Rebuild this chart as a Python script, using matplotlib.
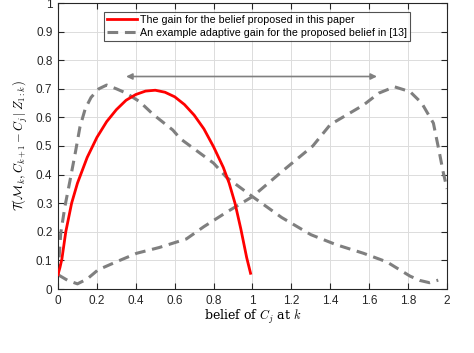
import matplotlib
matplotlib.use("Agg")
import matplotlib.pyplot as plt

plt.rcParams['font.family'] = ['Liberation Sans', 'DejaVu Sans']
plt.rcParams['mathtext.fontset'] = 'cm'

# red curve: gain for the proposed belief
red_x = [0, 0.01, 0.02, 0.04, 0.07, 0.1, 0.15, 0.2, 0.25, 0.3, 0.35, 0.4, 0.45,
         0.5, 0.55, 0.6, 0.65, 0.7, 0.75, 0.8, 0.85, 0.88, 0.91, 0.94, 0.97, 0.99]
red_y = [0.05, 0.075, 0.105, 0.2, 0.3, 0.37, 0.46, 0.53, 0.585, 0.627, 0.66, 0.68,
         0.692, 0.695, 0.688, 0.672, 0.645, 0.608, 0.56, 0.497, 0.425, 0.37, 0.3,
         0.21, 0.11, 0.055]

# grey dashed curve peaking on the left
gl_x = [0, 0.014, 0.036, 0.062, 0.09, 0.113, 0.14, 0.17, 0.21, 0.25, 0.3, 0.35,
        0.42, 0.49, 0.59, 0.63, 0.8, 0.867, 1.0, 1.15, 1.3, 1.43, 1.57, 1.69,
        1.75, 1.81, 1.86, 1.91, 1.955]
gl_y = [0.05, 0.195, 0.29, 0.38, 0.48, 0.567, 0.63, 0.67, 0.70, 0.713, 0.70,
        0.685, 0.655, 0.61, 0.556, 0.525, 0.44, 0.39, 0.323, 0.25, 0.19, 0.155,
        0.125, 0.095, 0.07, 0.045, 0.03, 0.022, 0.031]

# grey dashed curve peaking on the right
gr_x = [0, 0.05, 0.1, 0.15, 0.206, 0.3, 0.405, 0.52, 0.66, 0.75, 0.87, 1.0, 1.15,
        1.31, 1.4, 1.5, 1.57, 1.65, 1.73, 1.81, 1.87, 1.93, 1.96, 1.98, 2.0]
gr_y = [0.05, 0.03, 0.018, 0.035, 0.067, 0.095, 0.125, 0.145, 0.175, 0.218, 0.27,
        0.323, 0.41, 0.5, 0.575, 0.615, 0.643, 0.685, 0.707, 0.69, 0.65, 0.58,
        0.48, 0.41, 0.35]

fig = plt.figure(figsize=(4.74, 3.53), dpi=100)
ax = fig.add_axes([58 / 474, 1 - 289 / 353, 389 / 474, 286 / 353])

ax.plot(red_x, red_y, color='#ff0000', lw=2.0,
        label='The gain for the belief proposed in this paper', zorder=3)
ax.plot(gl_x, gl_y, color='#7f7f7f', lw=2.2, ls=(0, (3.5, 2.2)),
        label='An example adaptive gain for the proposed belief in [13]')
ax.plot(gr_x, gr_y, color='#7f7f7f', lw=2.2, ls=(0, (3.5, 2.2)))

ax.annotate('', xy=(0.35, 0.743), xytext=(1.64, 0.743),
            arrowprops=dict(arrowstyle='<|-|>', color='#808080', lw=1.2,
                            mutation_scale=9, shrinkA=0, shrinkB=0))

ax.set_xlim(0, 2)
ax.set_ylim(0, 1)
ax.set_xticks([0, 0.2, 0.4, 0.6, 0.8, 1, 1.2, 1.4, 1.6, 1.8, 2])
ax.set_xticklabels(['0', '0.2', '0.4', '0.6', '0.8', '1', '1.2', '1.4', '1.6', '1.8', '2'])
ax.set_yticks([0, 0.1, 0.2, 0.3, 0.4, 0.5, 0.6, 0.7, 0.8, 0.9, 1])
ax.set_yticklabels(['0', '0.1', '0.2', '0.3', '0.4', '0.5', '0.6', '0.7', '0.8', '0.9', '1'])
ax.tick_params(direction='in', top=True, right=True, labelsize=8.5,
               length=4, width=0.8, colors='#262626', pad=4)
ax.grid(True, color='#dcdcdc', lw=0.7)
for s in ax.spines.values():
    s.set_color('#262626')
    s.set_linewidth(0.8)

ax.set_xlabel(r'belief of $C_j$ at $k$', fontsize=9, family='DejaVu Serif',
              labelpad=1)
ax.set_ylabel(r'$\mathcal{T}(\mathcal{M}_k, C_{k+1} - C_j\,|\,Z_{1:k})$', fontsize=9,
              labelpad=4)

leg = ax.legend(loc='upper center', bbox_to_anchor=(0.512, 0.969), fontsize=7.7,
                frameon=True, fancybox=False, edgecolor='#262626',
                handlelength=2.8, borderpad=0.3, labelspacing=0.25,
                handletextpad=0.3, borderaxespad=0)
leg.get_frame().set_linewidth(0.8)

fig.savefig('out.png', dpi=100)
